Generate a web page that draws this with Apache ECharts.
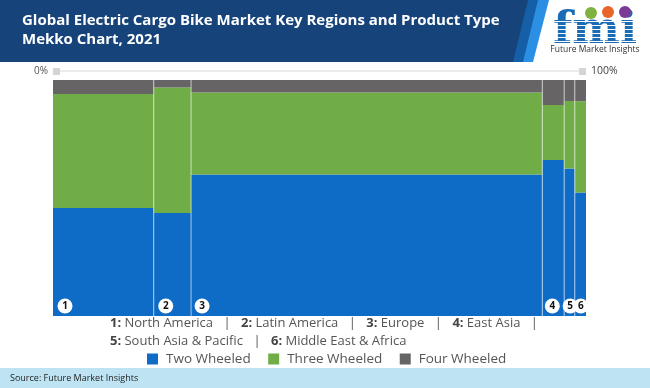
<!DOCTYPE html>
<html><head><meta charset="utf-8">
<style>html,body{margin:0;padding:0;background:#fff}#c{width:650px;height:388px}</style>
<script src="https://cdn.jsdelivr.net/npm/echarts@6/dist/echarts.min.js"></script></head>
<body><div id="c"></div>
<script>
const regions = ['North America','Latin America','Europe','East Asia','South Asia & Pacific','Middle East & Africa'];
const regionShare = [18.9, 7.0, 65.9, 4.1, 2.0, 2.1];
const twoWheeled = [45.8, 43.6, 60.0, 66.1, 62.5, 52.3];
const threeWheeled = [48.3, 53.2, 34.7, 23.3, 28.6, 38.7];
const fourWheeled = [5.9, 3.2, 5.3, 10.6, 8.9, 9.0];
const seriesNames = ['Two Wheeled','Three Wheeled','Four Wheeled'];
const colors = ['#0F6CC6','#70AD47','#666464'];
const font = '"Open Sans", sans-serif';

const edges = [0];
regionShare.forEach(s => edges.push(edges[edges.length-1] + s));
const scale = 100 / edges[edges.length-1];
const values = [twoWheeled, threeWheeled, fourWheeled];

function rows(k){
  return regions.map((r,i)=>{
    let base = 0;
    for(let j=0;j<k;j++) base += values[j][i];
    return [edges[i]*scale, edges[i+1]*scale, base, base+values[k][i]];
  });
}
function renderRect(params, api){
  const a = api.coord([api.value(0), api.value(2)]);
  const b = api.coord([api.value(1), api.value(3)]);
  return {type:'rect', shape:{x:a[0], y:b[1], width:b[0]-a[0], height:a[1]-b[1]},
    style:{fill:api.visual('color')}};
}
const stacks = seriesNames.map((n,k)=>({
  name:n, type:'custom', renderItem:renderRect, itemStyle:{color:colors[k]},
  data:rows(k), encode:{x:[0,1], y:[2,3]}, silent:true, z:2
}));
const badgeOffset = [12, 12, 11, 10, 6, 6];
const overlay = {
  type:'custom', silent:true, z:5, clip:false,
  data:regions.map((r,i)=>[edges[i]*scale, i+1, badgeOffset[i]]),
  encode:{x:0},
  renderItem(params, api){
    const p0 = api.coord([api.value(0), 0]);
    const p1 = api.coord([api.value(0), 100]);
    const cx = p0[0] + api.value(2), cy = p0[1] - 10;
    const kids = [];
    if(params.dataIndex>0) kids.push({type:'line', shape:{x1:p0[0],y1:p0[1],x2:p1[0],y2:p1[1]},
      style:{stroke:'rgba(255,255,255,0.6)', lineWidth:1}});
    kids.push({type:'circle', shape:{cx, cy, r:7.5}, style:{fill:'#fff'}});
    kids.push({type:'text', style:{x:cx, y:cy, text:String(api.value(1)), align:'center', verticalAlign:'middle',
      fill:'#111', font:'bold 10px '+font}});
    return {type:'group', children:kids};
  }
};

const stripes = [];
for(let y=21;y<=44;y+=4) stripes.push({type:'rect', z:12, shape:{x:552,y,width:86,height:1}, style:{fill:'#fff'}});
const rich = {b:{font:'bold 13px '+font, fill:'#444'}, t:{font:'13px '+font, fill:'#555'},
  s:{font:'13px '+font, fill:'#555', width:28, align:'center'}};

const chart = echarts.init(document.getElementById('c'), null, {renderer:'canvas'});
chart.setOption({
  animation:false,
  grid:{left:53, right:64, top:80, bottom:72},
  xAxis:{type:'value', min:0, max:100, show:false},
  yAxis:{type:'value', min:0, max:100, show:false},
  legend:{left:142, top:347, itemWidth:11, itemHeight:11, itemGap:17.5, icon:'rect',
    data:seriesNames, textStyle:{color:'#555', fontSize:13.5, fontFamily:'Open Sans', padding:[0,0,0,3]}},
  series:[...stacks, overlay],
  graphic:[
    {type:'polygon', z:10, shape:{points:[[0,0],[549,0],[533,62],[0,62]]}, style:{fill:'#2B8FE3'}},
    {type:'polygon', z:10, shape:{points:[[0,0],[538,0],[523,62],[0,62]]}, style:{fill:'#155FA8'}},
    {type:'polygon', z:10, shape:{points:[[0,0],[528,0],[513,62],[0,62]]}, style:{fill:'#16447A'}},
    {type:'text', z:11, style:{x:22, y:11, text:'Global Electric Cargo Bike Market Key Regions and Product Type\nMekko Chart, 2021',
      fill:'#fff', font:'bold 15px '+font, lineHeight:19}},
    {type:'text', z:11, style:{x:595, y:54, text:'fmi', align:'center', verticalAlign:'bottom', fill:'#1B6CB5', font:'bold 45px "DejaVu Serif"'}},
    ...stripes,
    {type:'circle', z:13, shape:{cx:591,cy:13,r:6}, style:{fill:'#7FB241'}},
    {type:'circle', z:13, shape:{cx:608,cy:12,r:6}, style:{fill:'#E8662A'}},
    {type:'circle', z:13, shape:{cx:625,cy:12,r:6}, style:{fill:'#7B3A96'}},
    {type:'text', z:13, style:{x:595, y:50, text:'Future Market Insights', align:'center', verticalAlign:'middle', fill:'#333', font:'8.5px '+font}},
    {type:'line', z:1, shape:{x1:56,y1:71,x2:583,y2:71}, style:{stroke:'#d8d8d8', lineWidth:1}},
    {type:'rect', z:2, shape:{x:53,y:68,width:7,height:7}, style:{fill:'#d5d5d5'}},
    {type:'rect', z:2, shape:{x:579,y:68,width:7,height:7}, style:{fill:'#d5d5d5'}},
    {type:'text', style:{x:48, y:71, text:'0%', align:'right', verticalAlign:'middle', fill:'#555', font:'10px '+font}},
    {type:'text', style:{x:591, y:71, text:'100%', align:'left', verticalAlign:'middle', fill:'#444', font:'10.5px '+font}},
    {type:'text', style:{x:110, y:323.5, verticalAlign:'middle', rich,
      text:regions.slice(0,4).map((r,i)=>`{b|${i+1}:} {t|${r}}`).join('{s||}')+'{s||}'}},
    {type:'text', style:{x:110, y:341, verticalAlign:'middle', rich,
      text:regions.slice(4).map((r,i)=>`{b|${i+5}:} {t|${r}}`).join('{s||}')}},
    {type:'rect', shape:{x:0,y:368,width:650,height:20}, style:{fill:'#BEE4F3'}},
    {type:'text', style:{x:10, y:378.5, text:'Source: Future Market Insights', verticalAlign:'middle', fill:'#222', font:'9px '+font}}
  ]
});
</script></body></html>
